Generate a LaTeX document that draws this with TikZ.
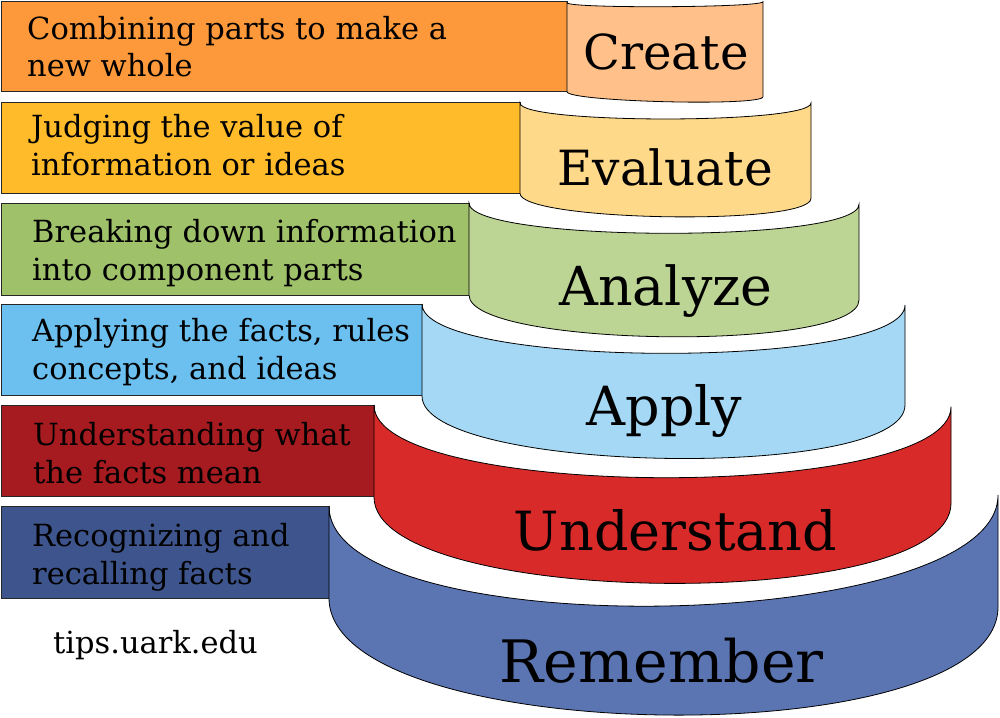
\documentclass[tikz,border=0pt]{standalone}
\usepackage{fontspec}
\setmainfont{DejaVu Serif}
\usetikzlibrary{positioning}
\definecolor{crRect}{RGB}{253,153,59}
\definecolor{crBand}{RGB}{255,192,138}
\definecolor{evRect}{RGB}{255,187,42}
\definecolor{evBand}{RGB}{255,217,138}
\definecolor{anRect}{RGB}{158,193,106}
\definecolor{anBand}{RGB}{188,212,148}
\definecolor{apRect}{RGB}{107,192,240}
\definecolor{apBand}{RGB}{164,216,245}
\definecolor{unRect}{RGB}{165,27,31}
\definecolor{unBand}{RGB}{217,42,42}
\definecolor{reRect}{RGB}{62,84,140}
\definecolor{reBand}{RGB}{91,116,178}

\begin{document}
\begin{tikzpicture}[x=1pt,y=-1pt,
  box/.style={draw=black!85,line width=0.8pt},
  band/.style={draw=black,line width=0.8pt},
  desc/.style={anchor=base west,align=left,inner sep=0pt,font=\fontsize{30.5}{37.8}\selectfont},
  lvl/.style={anchor=base,inner sep=0pt}]
\useasboundingbox (0,0) rectangle (1000,717);
% Create
\draw[box,fill=crRect] (1,1) rectangle (567,91);
\draw[band,fill=crBand] (567,2.7) .. controls (567,8.7) and (763,7.7) .. (763,1.7) -- (763,96.7)
  .. controls (763,106.7) and (567,101.7) .. (567,91.7) -- cycle;
% Evaluate
\draw[box,fill=evRect] (1,102) rectangle (520,193);
\draw[band,fill=evBand] (520,103) .. controls (520,124.3) and (811,124.3) .. (811,103) -- (811,198.3)
  .. controls (811,226.2) and (520,221.2) .. (520,193.3) -- cycle;
% Analyze
\draw[box,fill=anRect] (1,203) rectangle (469,295);
\draw[band,fill=anBand] (469,203) .. controls (469,242.5) and (859,243.8) .. (859,204.3) -- (859,300)
  .. controls (859,352.3) and (469,347.3) .. (469,295) -- cycle;
% Apply
\draw[box,fill=apRect] (1,304) rectangle (422,395);
\draw[band,fill=apBand] (422,304) .. controls (422,369.1) and (905,370.1) .. (905,305) -- (905,405)
  .. controls (905,482.1) and (422,473.1) .. (422,396) -- cycle;
% Understand
\draw[box,fill=unRect] (1,405) rectangle (374,496);
\draw[band,fill=unBand] (374,405) .. controls (374,500.8) and (951,502.5) .. (951,406.7) -- (951,503.3)
  .. controls (951,614.2) and (374,607.9) .. (374,497) -- cycle;
% Remember
\draw[box,fill=reRect] (1,506) rectangle (329,598);
\draw[band,fill=reBand] (329,506) .. controls (329,646.7) and (998,635.7) .. (998,495) -- (998,607)
  .. controls (998,757) and (329,748) .. (329,598) -- cycle;

% descriptions, placed at the baseline of their second line
\node[desc] (crDesc) at (27,77) {Combining parts to make a\\new whole};
\node[desc] (evDesc) at (31,175) {Judging the value of\\information or ideas};
\node[desc] (anDesc) at (32,280) {Breaking down information\\into component parts};
\node[desc] (apDesc) at (32,379) {Applying the facts, rules\\concepts, and ideas};
\node[desc] (unDesc) at (33,483) {Understanding what\\the facts mean};
\node[desc] (reDesc) at (32,584) {Recognizing and\\recalling facts};
\node[desc] (site) at (53,653) {tips.uark.edu};

\node[lvl,font=\fontsize{48.2}{58}\selectfont] (create) at (666,70) {Create};
\node[lvl,font=\fontsize{48.5}{58}\selectfont] (evaluate) at (665,185) {Evaluate};
\node[lvl,font=\fontsize{53.8}{64}\selectfont] (analyze) at (666,305) {Analyze};
\node[lvl,font=\fontsize{54}{64}\selectfont] (apply) at (664.5,425) {Apply};
\node[lvl,font=\fontsize{54}{64}\selectfont] (understand) at (675.5,550) {Understand};
\node[lvl,font=\fontsize{58.5}{70}\selectfont] (remember) at (661.5,682) {Remember};
\end{tikzpicture}
\end{document}
